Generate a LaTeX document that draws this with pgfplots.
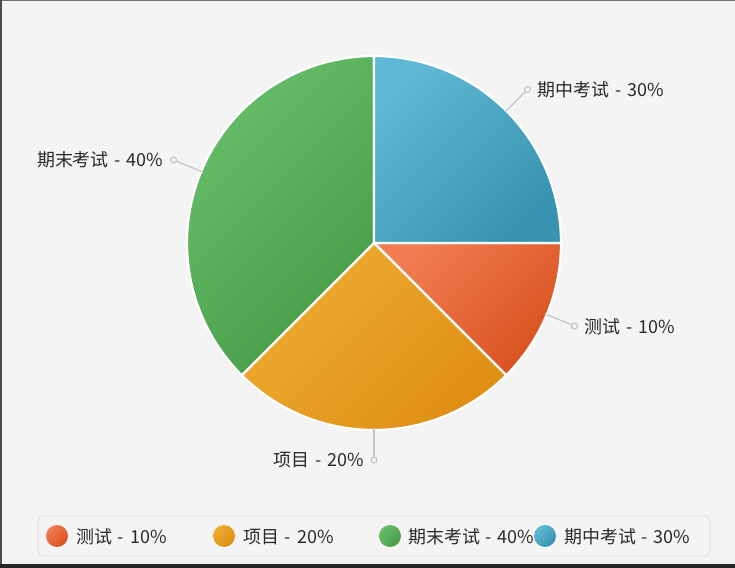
\documentclass[border=0pt]{standalone}
\usepackage{pgfplots}
\pgfplotsset{compat=1.18}
\usepackage{fontspec}
\setmainfont{Noto Sans CJK SC}

\definecolor{bgc}{HTML}{F4F4F4}
\definecolor{txt}{HTML}{2A2A2A}
\definecolor{lead}{HTML}{C4C4C4}
\definecolor{legb}{HTML}{E2E2E2}
\definecolor{cAl}{HTML}{F27D52}\definecolor{cAd}{HTML}{D9521F}
\definecolor{cBl}{HTML}{F0AC33}\definecolor{cBd}{HTML}{DE8F14}
\definecolor{cCl}{HTML}{68BD6A}\definecolor{cCd}{HTML}{479C47}
\definecolor{cDl}{HTML}{5FB9D4}\definecolor{cDd}{HTML}{3893B0}

% slice values (drawn sizes), clockwise from 3 o'clock
\def\vA{10}\def\vB{20}\def\vC{30}\def\vD{20}
\pgfmathsetmacro\vT{\vA+\vB+\vC+\vD}
\pgfmathsetmacro\aA{-360*\vA/\vT}
\pgfmathsetmacro\aB{\aA-360*\vB/\vT}
\pgfmathsetmacro\aC{\aB-360*\vC/\vT}
\pgfmathsetmacro\aD{\aC-360*\vD/\vT}
\def\cx{374}\def\cy{325}\def\R{187}\def\Rl{217}
% mid angles of the slices
\pgfmathsetmacro\mA{\aA/2}
\pgfmathsetmacro\mB{(\aA+\aB)/2}
\pgfmathsetmacro\mC{(\aB+\aC)/2}
\pgfmathsetmacro\mD{(\aC+\aD)/2}

\newcommand\dash{\hspace{0.33em}-\hspace{0.33em}}
\tikzset{lbl/.style={inner sep=0, text=txt, font=\fontsize{18}{20}\selectfont}}
\newcommand\leader[1]{%
  \draw[lead, line width=1.2bp] ({\cx+(\R-2)*cos(#1)},{\cy+(\R-2)*sin(#1)})
     -- ({\cx+(\Rl-3)*cos(#1)},{\cy+(\Rl-3)*sin(#1)});
  \draw[lead, line width=1.1bp, fill=bgc] ({\cx+\Rl*cos(#1)},{\cy+\Rl*sin(#1)}) circle[radius=3bp];}

\begin{document}
\begin{tikzpicture}
\begin{axis}[width=735bp, height=568bp, scale only axis,
    xmin=0, xmax=735, ymin=0, ymax=568, hide axis, clip=false]
  % background and frame
  \fill[bgc] (axis cs:0,0) rectangle (axis cs:735,568);
  \fill[black!55] (axis cs:0,566.6) rectangle (axis cs:735,568);
  \fill[black!70] (axis cs:0,0) rectangle (axis cs:2,568);
  \fill[black!85] (axis cs:0,0) rectangle (axis cs:735,3.5);

  % slices
  \addplot[draw=white, line width=2.2bp, top color=cAl, bottom color=cAd, shading angle=45,
    domain=\aA:0, samples=30, variable=\t]
    ({\cx+\R*cos(\t)},{\cy+\R*sin(\t)}) -- (axis cs:\cx,\cy) -- cycle;
  \addplot[draw=white, line width=2.2bp, top color=cBl, bottom color=cBd, shading angle=45,
    domain=\aB:\aA, samples=50, variable=\t]
    ({\cx+\R*cos(\t)},{\cy+\R*sin(\t)}) -- (axis cs:\cx,\cy) -- cycle;
  \addplot[draw=white, line width=2.2bp, top color=cCl, bottom color=cCd, shading angle=45,
    domain=\aC:\aB, samples=70, variable=\t]
    ({\cx+\R*cos(\t)},{\cy+\R*sin(\t)}) -- (axis cs:\cx,\cy) -- cycle;
  \addplot[draw=white, line width=2.2bp, top color=cDl, bottom color=cDd, shading angle=45,
    domain=\aD:\aC, samples=50, variable=\t]
    ({\cx+\R*cos(\t)},{\cy+\R*sin(\t)}) -- (axis cs:\cx,\cy) -- cycle;

  % leader lines and labels
  \leader{\mA}\leader{\mB}\leader{\mC}\leader{\mD}
  \node[lbl, anchor=base west] at ({\cx+\Rl*cos(\mA)+10},{\cy+\Rl*sin(\mA)-7}) {测试\dash 10\%};
  \node[lbl, anchor=base east] at ({\cx+\Rl*cos(\mB)-10},{\cy+\Rl*sin(\mB)-7}) {项目\dash 20\%};
  \node[lbl, anchor=base east] at ({\cx+\Rl*cos(\mC)-10},{\cy+\Rl*sin(\mC)-7}) {期末考试\dash 40\%};
  \node[lbl, anchor=base west] at ({\cx+\Rl*cos(\mD)+10},{\cy+\Rl*sin(\mD)-7}) {期中考试\dash 30\%};

  % legend
  \draw[legb, line width=1bp, fill=bgc, rounded corners=5bp] (axis cs:38,12) rectangle (axis cs:710,52);
  \shade[top color=cAl, bottom color=cAd, shading angle=45] (axis cs:57,32) circle[radius=11bp];
  \shade[top color=cBl, bottom color=cBd, shading angle=45] (axis cs:224,32) circle[radius=11bp];
  \shade[top color=cCl, bottom color=cCd, shading angle=45] (axis cs:390,32) circle[radius=11bp];
  \shade[top color=cDl, bottom color=cDd, shading angle=45] (axis cs:545,32) circle[radius=11bp];
  \node[lbl, anchor=base west] at (axis cs:76,25) {测试\dash 10\%};
  \node[lbl, anchor=base west] at (axis cs:243,25) {项目\dash 20\%};
  \node[lbl, anchor=base west] at (axis cs:408,25) {期末考试\dash 40\%};
  \node[lbl, anchor=base west] at (axis cs:564,25) {期中考试\dash 30\%};
\end{axis}
\end{tikzpicture}
\end{document}
